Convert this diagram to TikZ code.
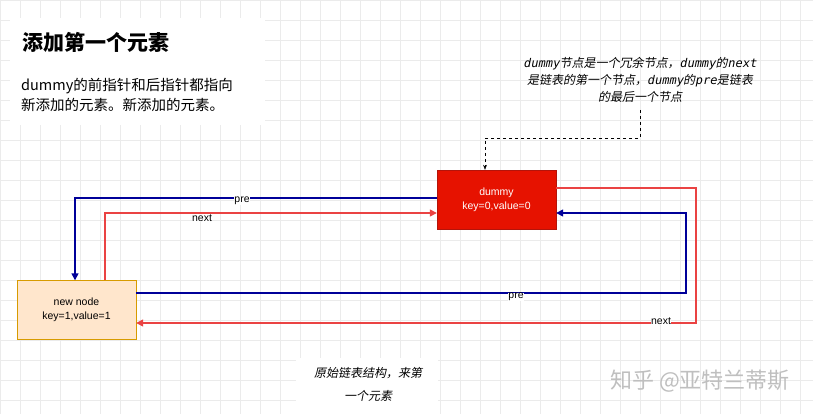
\documentclass[tikz,border=0pt]{standalone}
\usepackage{fontspec}
\setmainfont{Liberation Sans}
\newfontfamily\cjk{Noto Sans CJK SC}
\newfontfamily\cjki[FakeSlant=0.2]{Noto Sans CJK SC}
\newfontfamily\monoi[FakeSlant=0.2]{DejaVu Sans Mono}
\usetikzlibrary{arrows.meta}
\begin{document}
\begin{tikzpicture}[x=1pt,y=-1pt,
  box/.style={draw,minimum width=119pt,minimum height=59pt,align=center,font=\fontsize{10.5}{14}\selectfont,inner sep=0pt},
  bl/.style={draw={rgb,255:red,0;green,0;blue,153},line width=1.4pt,-{Triangle[length=7pt,width=7pt]}},
  rd/.style={draw={rgb,255:red,234;green,67;blue,67},line width=1.4pt,-{Triangle[length=7pt,width=7pt]}},
  lab/.style={fill=white,inner sep=0.5pt,font=\fontsize{10.5}{11}\selectfont}]
\useasboundingbox (0,0) rectangle (813,414);
\fill[white] (0,0) rectangle (813,414);
\draw[black!8,line width=0.4pt] (0,0) grid[step=20pt] (813,414);
\fill[white] (10,18) rectangle (265,125);
\fill[white] (296,358) rectangle (438,414);
\node[box,fill={rgb,255:red,230;green,18;blue,0},draw={rgb,255:red,180;green,20;blue,10},text=white] (d) at (496.5,199.5) {dummy\\key=0,value=0};
\node[box,fill={rgb,255:red,255;green,230;blue,204},draw={rgb,255:red,215;green,155;blue,0}] (n) at (76.5,310) {new node\\key=1,value=1};
\node[anchor=west,font=\cjk\bfseries\fontsize{21}{24}\selectfont] (t) at (19,42) {添加第一个元素};
\node[anchor=north west,align=left,font=\cjk\fontsize{14.5}{20}\selectfont,inner sep=0pt] (b) at (21,78) {dummy的前指针和后指针都指向\\新添加的元素。新添加的元素。};
\node[align=center,font=\cjki\fontsize{12}{17}\selectfont] (a) at (640,80) {{\monoi dummy}节点是一个冗余节点，{\monoi dummy}的{\monoi next}\\是链表的第一个节点，{\monoi dummy}的{\monoi pre}是链表\\的最后一个节点};
\node[align=center,font=\cjki\fontsize{12}{23}\selectfont] (o) at (368,384) {原始链表结构，来第\\一个元素};
\node[font=\cjk\fontsize{22}{24}\selectfont,text=black!25] (w) at (700,381) {知乎 @亚特兰蒂斯};
\coordinate (a1) at (640,110);
\draw[dashed,-{Stealth[length=5pt]}] (a1) -- (640,138) -- (485,138) -- (d.north -| 485,0);
\draw[bl] (d.west |- 0,198) -- (75,198) -- (n.north -| 75,0);
\node[lab] at (242,201) {pre};
\draw[rd] (n.north -| 105,0) -- (105,213) -- (d.west |- 0,213);
\node[lab] at (202,218) {next};
\draw[bl] (n.east |- 0,293) -- (686,293) -- (686,213) -- (d.east |- 0,213);
\node[lab] at (516,297) {pre};
\draw[rd] (d.east |- 0,188) -- (696,188) -- (696,323) -- (n.east |- 0,323);
\node[lab] at (661,321) {next};
\end{tikzpicture}
\end{document}
